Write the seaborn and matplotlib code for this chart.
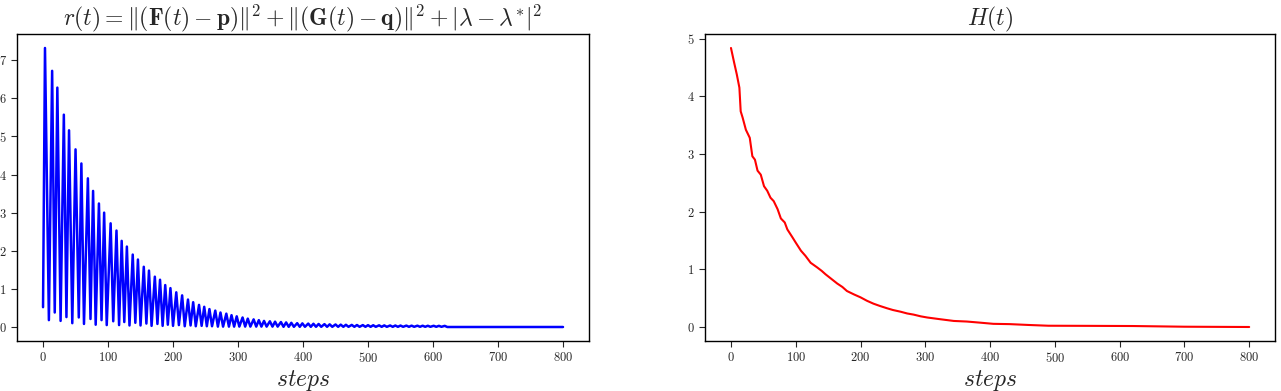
import numpy as np
import pandas as pd
import matplotlib
matplotlib.use("Agg")
import matplotlib.pyplot as plt
import seaborn as sns

# r(t): start point, peaks and troughs of the oscillation, flat tail
r_start = [0, 0.52]
peak_steps = [3, 14, 22, 32, 40, 50, 59, 69, 77, 86,
              94, 104, 113, 121, 129, 138, 146, 155, 163, 172,
              180, 188, 196, 205, 214, 223, 231, 240, 248, 256,
              265, 273, 282, 290, 298, 307, 315, 324, 332, 340,
              349, 357, 366, 374, 382, 391, 399, 408, 416, 424,
              433, 441, 450, 458, 466, 475, 483, 492, 500, 508,
              517, 525, 534, 542, 550, 559, 567, 576, 584, 592,
              601, 609, 618]
peak_vals = [7.32, 6.72, 6.28, 5.57, 5.16, 4.66, 4.29, 3.90, 3.57, 3.24,
             3.00, 2.72, 2.53, 2.26, 2.11, 1.90, 1.77, 1.58, 1.48, 1.32,
             1.24, 1.10, 1.02, 0.91, 0.83, 0.72, 0.65, 0.58, 0.53, 0.47,
             0.43, 0.38, 0.35, 0.31, 0.28, 0.25, 0.22, 0.20, 0.18, 0.16,
             0.15, 0.14, 0.13, 0.12, 0.11, 0.10, 0.095, 0.09, 0.085, 0.08,
             0.075, 0.07, 0.066, 0.062, 0.058, 0.055, 0.052, 0.05, 0.048, 0.046,
             0.044, 0.042, 0.04, 0.039, 0.038, 0.037, 0.036, 0.035, 0.034, 0.033,
             0.032, 0.031, 0.03]
trough_steps = [9, 18, 27, 36, 45, 55, 63, 73, 81, 90,
                98, 108, 117, 125, 133, 142, 150, 159, 167, 176,
                184, 192, 200, 209, 218, 227, 235, 244, 252, 260,
                269, 277, 286, 294, 302, 311, 319, 328, 336, 344,
                353, 361, 370, 378, 386, 395, 403, 412, 420, 428,
                437, 445, 454, 462, 470, 479, 487, 496, 504, 512,
                521, 529, 538, 546, 554, 563, 571, 580, 588, 596,
                605, 613]
trough_vals = [0.18, 0.38, 0.16, 0.26, 0.10, 0.25, 0.08, 0.21, 0.06, 0.18,
               0.05, 0.15, 0.05, 0.13, 0.04, 0.11, 0.04, 0.09, 0.03, 0.08,
               0.03, 0.06, 0.03, 0.05, 0.02, 0.04, 0.02, 0.03, 0.02, 0.02,
               0.01, 0.01, 0.01, 0.01, 0.01, 0.01, 0.01, 0.01, 0.01, 0.01,
               0.01, 0.01, 0.005, 0.005, 0.005, 0.005, 0.005, 0.005, 0.005, 0.005,
               0.005, 0.005, 0.005, 0.005, 0.005, 0.005, 0.005, 0.005, 0.005, 0.005,
               0.005, 0.005, 0.005, 0.005, 0.005, 0.005, 0.005, 0.005, 0.005, 0.005,
               0.005, 0.005]
tail_steps = [622, 800]
tail_vals = [0.0, 0.0]

# H(t)
h_steps = [0, 5, 9, 13, 15, 18, 23, 29, 33, 37,
           41, 46, 51, 56, 61, 66, 72, 77, 83, 87,
           95, 100, 108, 115, 123, 133, 140, 146, 155, 164,
           172, 179, 190, 200, 210, 220, 230, 241, 250, 262,
           272, 282, 293, 303, 313, 323, 344, 364, 385, 405,
           430, 460, 490, 550, 620, 700, 800]
h_vals = [4.84, 4.58, 4.38, 4.15, 3.74, 3.63, 3.42, 3.28, 2.96, 2.90,
          2.71, 2.64, 2.44, 2.36, 2.24, 2.18, 2.04, 1.88, 1.81, 1.69,
          1.55, 1.46, 1.32, 1.23, 1.11, 1.03, 0.97, 0.91, 0.83, 0.75,
          0.69, 0.62, 0.56, 0.51, 0.45, 0.40, 0.36, 0.32, 0.29, 0.26,
          0.23, 0.21, 0.18, 0.16, 0.145, 0.13, 0.10, 0.09, 0.07, 0.05,
          0.045, 0.03, 0.017, 0.015, 0.012, 0.0, -0.005]

r_df = pd.DataFrame({
    "step": [r_start[0]] + peak_steps + trough_steps + tail_steps,
    "r": [r_start[1]] + peak_vals + trough_vals + tail_vals,
}).sort_values("step")
h_df = pd.DataFrame({"step": h_steps, "H": h_vals})

sns.set_style("ticks")
plt.rcParams["font.family"] = "serif"
plt.rcParams["font.serif"] = ["cmr10", "DejaVu Serif"]
plt.rcParams["mathtext.fontset"] = "cm"
plt.rcParams["axes.formatter.use_mathtext"] = True
plt.rcParams["axes.unicode_minus"] = False

fig = plt.figure(figsize=(12.81, 3.91), dpi=100)
ax1 = fig.add_axes([0.0133, 0.128, 0.4465, 0.785])
ax2 = fig.add_axes([0.5504, 0.128, 0.445, 0.785])

sns.lineplot(data=r_df, x="step", y="r", color="blue", linewidth=1.8, sort=False, ax=ax1)
sns.lineplot(data=h_df, x="step", y="H", color="red", linewidth=1.5, ax=ax2)

ax1.set_title(r"$r(t) = \|(\mathbf{F}(t) - \mathbf{p})\|^2 + \|(\mathbf{G}(t) - \mathbf{q})\|^2 + |\lambda - \lambda^{*}|^2$",
              fontsize=17, pad=4)
ax2.set_title(r"$H(t)$", fontsize=17, pad=4)

for ax in (ax1, ax2):
    ax.set_xlabel(r"$steps$", fontsize=17, labelpad=2)
    ax.set_ylabel("")
    ax.set_xticks(range(0, 801, 100))
    ax.tick_params(labelsize=9, length=4, width=0.8)
    for s in ax.spines.values():
        s.set_visible(True)
        s.set_linewidth(1.0)
        s.set_color("black")

ax1.set_yticks(range(0, 8))
ax2.set_yticks(range(0, 6))

fig.savefig("out.png", dpi=100)
